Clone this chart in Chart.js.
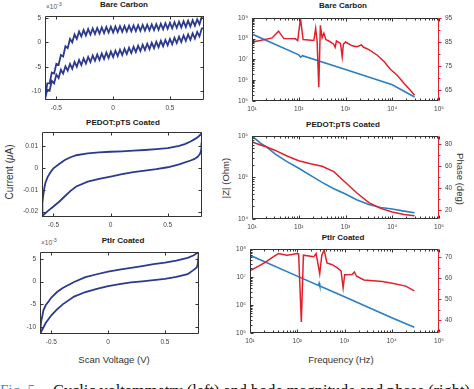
<!DOCTYPE html>
<html>
<head>
<meta charset="utf-8">
<script src="https://cdn.jsdelivr.net/npm/chart.js@4.4.1/dist/chart.umd.min.js"></script>
<style>
  html, body { margin: 0; padding: 0; background: #fff; }
  body { position: relative; width: 474px; height: 389px; overflow: hidden; font-family: 'Liberation Sans', Arial, sans-serif; }
  canvas { position: absolute; }
  .t { position: absolute; white-space: nowrap; line-height: 1; transform: translate(-50%, -50%); color: #1a1a1a; }
  .title { font-size: 8px; font-weight: bold; }
  .axis { font-size: 9.5px; color: #333; }
  .up { transform: translate(-50%, -50%) rotate(-90deg); }
  .down { transform: translate(-50%, -50%) rotate(90deg); }
  .exp { position: absolute; font-size: 6.5px; color: #555; line-height: 1; }
  .caption { position: absolute; top: 383px; font-family: 'Liberation Serif', 'Times New Roman', serif; font-size: 16.3px; white-space: nowrap; color: #111; line-height: 1; }
</style>
</head>
<body>
<div class="t title" style="left:124px;top:5px">Bare Carbon</div>
<div class="t title" style="left:343px;top:6px">Bare Carbon</div>
<div class="t title" style="left:123px;top:123px">PEDOT:pTS Coated</div>
<div class="t title" style="left:343px;top:125px">PEDOT:pTS Coated</div>
<div class="t title" style="left:123px;top:241px">PtIr Coated</div>
<div class="t title" style="left:343px;top:238px">PtIr Coated</div>
<div class="exp" style="left:46px;top:2px">×10<sup>-3</sup></div>
<div class="exp" style="left:41px;top:238px">×10<sup>-3</sup></div>
<div class="t axis up" style="left:10px;top:172px;font-size:10px">Current (<i>μ</i>A)</div>
<div class="t axis up" style="left:226px;top:178px">|Z| (Ohm)</div>
<div class="t axis down" style="left:460px;top:179px">Phase (deg)</div>
<div class="t axis" style="left:114px;top:360px">Scan Voltage (V)</div>
<div class="t axis" style="left:341px;top:360px">Frequency (Hz)</div>
<div class="caption" style="left:0;font-size:15px;color:#3d8fd6">Fig. 5.</div>
<div class="caption" style="left:53px">Cyclic voltammetry (left) and bode magnitude and phase (right)</div>

<script>
// ---------- data ----------
const cvTicks = [-0.5, 0, 0.5];
const freqTicks = [1e1, 1e2, 1e3, 1e4, 1e5];

// bare carbon CV (x10^-3), both branches on the same voltage grid
const sweepV = [-0.60, -0.58, -0.56, -0.54, -0.52, -0.50, -0.48, -0.46, -0.44, -0.42,
  -0.40, -0.38, -0.36, -0.34, -0.32, -0.30, -0.28, -0.26, -0.24, -0.22,
  -0.20, -0.18, -0.16, -0.14, -0.12, -0.10, -0.08, -0.06, -0.04, -0.02,
  0.00, 0.02, 0.04, 0.06, 0.08, 0.10, 0.12, 0.14, 0.16, 0.18,
  0.20, 0.22, 0.24, 0.26, 0.28, 0.30, 0.32, 0.34, 0.36, 0.38,
  0.40, 0.42, 0.44, 0.46, 0.48, 0.50, 0.52, 0.54, 0.56, 0.58,
  0.60, 0.62, 0.64, 0.66, 0.68, 0.70, 0.72, 0.74, 0.76, 0.78, 0.80];
const bareUpI = [-11.7, -8.4, -8.4, -6.2, -6.4, -4.4, -4.6, -2.6, -2.9, -0.8,
  -1.2, 0.7, 0.0, 1.6, 0.7, 2.2, 1.2, 2.5, 1.4, 2.7,
  1.6, 2.85, 1.7, 2.95, 1.8, 3.05, 1.9, 3.15, 2.0, 3.2,
  2.0, 3.25, 2.1, 3.3, 2.15, 3.35, 2.2, 3.4, 2.25, 3.45,
  2.3, 3.5, 2.35, 3.55, 2.4, 3.6, 2.45, 3.65, 2.5, 3.7,
  2.55, 3.8, 2.65, 3.9, 2.75, 4.0, 2.85, 4.1, 2.95, 4.2,
  3.05, 4.3, 3.15, 4.4, 3.25, 4.5, 3.4, 4.7, 3.7, 5.2, 5.5];
const bareDownI = [-11.7, -9.6, -9.9, -7.9, -8.4, -6.6, -7.3, -5.6, -6.4, -4.9,
  -5.8, -4.4, -5.4, -4.0, -5.0, -3.6, -4.65, -3.3, -4.35, -3.0,
  -4.05, -2.7, -3.8, -2.5, -3.6, -2.3, -3.4, -2.1, -3.2, -1.9,
  -3.0, -1.7, -2.8, -1.5, -2.6, -1.3, -2.4, -1.1, -2.2, -0.9,
  -2.0, -0.7, -1.8, -0.5, -1.6, -0.3, -1.4, -0.1, -1.2, 0.1,
  -1.0, 0.3, -0.8, 0.5, -0.6, 0.7, -0.4, 0.95, -0.15, 1.15,
  0.05, 1.4, 0.3, 1.6, 0.5, 1.8, 0.75, 2.1, 1.2, 2.8, 3.0];

// PEDOT:pTS CV
const pedotUpV = [-0.6, -0.598, -0.595, -0.59, -0.58, -0.57, -0.55, -0.52, -0.5, -0.45,
  -0.4, -0.35, -0.3, -0.2, -0.1, 0, 0.1, 0.2, 0.3, 0.4, 0.5, 0.6, 0.65, 0.7, 0.74, 0.77, 0.8];
const pedotUpI = [-0.0225, -0.019, -0.016, -0.013, -0.0093, -0.0068, -0.0041, -0.0015, -0.0002, 0.0018,
  0.0036, 0.0049, 0.0058, 0.0067, 0.0071, 0.0074, 0.0076, 0.0079, 0.0082, 0.0086,
  0.0091, 0.0101, 0.0109, 0.0121, 0.0133, 0.0144, 0.0160];
const pedotDownV = [0.8, 0.798, 0.795, 0.79, 0.78, 0.76, 0.73, 0.7, 0.6, 0.5,
  0.4, 0.3, 0.2, 0.1, 0, -0.1, -0.2, -0.3, -0.35, -0.4, -0.45, -0.5, -0.55, -0.6];
const pedotDownI = [0.0160, 0.0113, 0.0090, 0.0075, 0.0062, 0.0050, 0.0040, 0.0034, 0.0016, 0.0003,
  -0.0006, -0.0012, -0.0019, -0.0029, -0.0040, -0.0050, -0.0063, -0.0085, -0.0105, -0.0130,
  -0.0155, -0.0177, -0.0198, -0.0222];

// PtIr CV (x10^-3)
const ptirUpV = [-0.6, -0.595, -0.59, -0.58, -0.57, -0.55, -0.52, -0.5, -0.45, -0.4,
  -0.3, -0.2, -0.1, 0, 0.1, 0.2, 0.3, 0.4, 0.5, 0.6, 0.7, 0.75, 0.8];
const ptirUpI = [-11.5, -10, -8.8, -7.6, -6.3, -5.2, -4.2, -3.5, -2.3, -1.4,
  -0.1, 0.95, 1.6, 2.2, 2.6, 3.0, 3.4, 3.8, 4.15, 4.6, 5.2, 5.7, 6.5];
const ptirDownV = [0.8, 0.795, 0.79, 0.78, 0.75, 0.7, 0.6, 0.5, 0.4, 0.3,
  0.2, 0.1, 0, -0.1, -0.2, -0.3, -0.4, -0.45, -0.5, -0.55, -0.6];
const ptirDownI = [6.5, 5.5, 3.9, 3.1, 2.5, 1.6, 1.0, 0.6, 0.3, 0.05,
  -0.2, -0.55, -1.0, -1.6, -2.3, -3.3, -5.0, -6.1, -7.4, -9.1, -11.5];

// bode, bare carbon
const bareZFreq = [10, 100, 110, 120, 1000, 10000, 30000];
const bareZ = [1.66e8, 1.66e7, 1.29e7, 1.51e7, 3.3e6, 6.0e5, 1.55e5];
const barePhFreq = [10, 15, 27, 37, 48, 85, 95, 109, 124, 210,
  230, 247, 268, 290, 316, 345, 380, 440, 560, 600,
  640, 780, 850, 900, 1000, 1390, 1780, 2190, 2450, 3160,
  4790, 6600, 9100, 12900, 17800, 24600, 30000];
const barePh = [85.0, 85.6, 86.7, 89.5, 86.4, 86.3, 85.6, 94.8, 86, 85.6,
  90.6, 85.4, 66.2, 91.9, 86.7, 88.6, 86, 85.4, 84.1, 82.8,
  85.4, 84.4, 78.9, 84.1, 85, 83.4, 83, 83.8, 82.8, 81.8,
  79.5, 77, 73.7, 71.1, 67.9, 64.9, 62.9];

// bode, PEDOT:pTS
const pedotFreq = [10, 15.8, 20, 31.6, 56, 100, 178, 316, 562, 1000, 1778, 3162, 5623, 10000, 17800, 30000];
const pedotZ = [1.0e6, 6.46e5, 5.5e5, 3.63e5, 2.4e5, 1.66e5, 1.12e5, 7.59e4, 5.37e4, 3.98e4, 2.88e4, 2.24e4, 1.9e4, 1.74e4, 1.55e4, 1.41e4];
const pedotPh = [81.9, 79, 77.6, 74.2, 69.1, 64.8, 62, 59.7, 54.8, 44.9, 35.0, 26.5, 21.2, 17.9, 15.6, 14.4];

// bode, PtIr
const ptirZFreq = [10, 100, 280, 290, 300, 1000, 10000, 30000];
const ptirZ = [5.9e7, 1.07e7, 5.0e6, 6.0e6, 4.8e6, 1.95e6, 3.5e5, 1.6e5];
const ptirPhFreq = [10, 21, 31.4, 40, 60, 77, 98, 107, 122, 135,
  224, 251, 299, 331, 371, 425, 548, 693, 846, 935,
  1010, 1445, 1620, 1800, 2580, 6300, 10200, 19800, 30000];
const ptirPh = [63.6, 67.6, 70.3, 71.8, 71.0, 71.3, 71.8, 71.6, 39.3, 71,
  70.3, 71.8, 62.2, 71, 73.5, 67.3, 66.5, 65.1, 63.5, 55.5,
  61.7, 61.8, 63, 61, 59.2, 58.5, 57.7, 56.3, 54];

// ---------- drawing ----------
const RED = '#e2202b', BLUE = '#2a7ec4', NAVY = '#2b3a8f', INK = '#333';
const SUP = { '0': '⁰', '1': '¹', '2': '²', '3': '³', '4': '⁴', '5': '⁵', '6': '⁶', '7': '⁷', '8': '⁸', '9': '⁹', '-': '⁻' };
Chart.defaults.font.family = "'Liberation Sans', Arial, sans-serif";
const tickFont = { size: 6.5 };

function pts(xs, ys) { return xs.map((x, i) => ({ x, y: ys[i] })); }

// tick positions for the inward marks, log axes get the 2..9 minors too
function marks(s) {
  if (s.type === 'logarithmic') {
    const out = [];
    for (let e = Math.floor(Math.log10(s.min)); e <= Math.ceil(Math.log10(s.max)); e++) {
      for (let k = 1; k <= 9; k++) {
        const v = k * Math.pow(10, e);
        if (v >= s.min * 0.999 && v <= s.max * 1.001) out.push({ v, major: k === 1 });
      }
    }
    return out;
  }
  const vals = s.ticks.map(t => t.value);
  const out = vals.map(v => ({ v, major: true }));
  if (s.options.halfTicks && vals.length > 1) {
    const step = vals[1] - vals[0];
    for (let v = vals[0] - step / 2; v <= s.max; v += step) {
      if (v >= s.min) out.push({ v, major: false });
    }
  }
  return out;
}

const frame = {
  id: 'frame',
  afterDatasetsDraw(chart) {
    const { ctx, chartArea: a, scales } = chart;
    const L = Math.round(a.left) + 0.5, R = Math.round(a.right) - 0.5;
    const T = Math.round(a.top) + 0.5, B = Math.round(a.bottom) - 0.5;
    const line = (x1, y1, x2, y2) => { ctx.beginPath(); ctx.moveTo(x1, y1); ctx.lineTo(x2, y2); ctx.stroke(); };
    ctx.save();
    ctx.lineWidth = 1;
    ctx.strokeStyle = INK;
    marks(scales.x).forEach(t => {
      const p = Math.round(scales.x.getPixelForValue(t.v)) + 0.5, n = t.major ? 3 : 2;
      line(p, B, p, B - n); line(p, T, p, T + n);
    });
    marks(scales.y).forEach(t => {
      const p = Math.round(scales.y.getPixelForValue(t.v)) + 0.5, n = t.major ? 3 : 2;
      line(L, p, L + n, p);
      if (!scales.y2) line(R, p, R - n, p);
    });
    line(L, T, R, T); line(L, B, R, B); line(L, T, L, B);
    if (scales.y2) {
      ctx.strokeStyle = RED;
      marks(scales.y2).forEach(t => {
        const p = Math.round(scales.y2.getPixelForValue(t.v)) + 0.5, n = t.major ? 3 : 2;
        line(R, p, R + n, p);
      });
    }
    line(R, T, R, B);
    ctx.restore();
  }
};
Chart.register(frame);

function axis(type, pos, min, max, ticks, size, fmt, extra) {
  return Object.assign({
    type, position: pos, min, max,
    grid: { display: false, drawTicks: false }, border: { display: false },
    afterBuildTicks: s => { s.ticks = ticks.map(v => ({ value: v })); },
    afterFit: s => { if (pos === 'bottom') s.height = size; else s.width = size; },
    ticks: { font: tickFont, color: '#444', padding: pos === 'right' ? 6 : 4, maxRotation: 0, autoSkip: false, callback: fmt }
  }, extra || {});
}
const plain = v => String(v);
const pow10 = v => '10' + String(Math.round(Math.log10(v))).split('').map(c => SUP[c]).join('');

function place(box, hasRight) {
  const p = { leftW: 30, rightW: hasRight ? 24 : 6, bottomH: 14, padT: 4 };
  const c = document.createElement('canvas');
  c.width = box.r - box.l + p.leftW + p.rightW;
  c.height = box.b - box.t + p.padT + p.bottomH;
  c.style.left = (box.l - p.leftW) + 'px';
  c.style.top = (box.t - p.padT) + 'px';
  document.body.appendChild(c);
  p.ctx = c.getContext('2d');
  p.hasRight = hasRight;
  return p;
}

function opts(p, scales) {
  return {
    animation: false, responsive: false, devicePixelRatio: 1,
    layout: { autoPadding: false, padding: { top: p.padT, right: p.hasRight ? 0 : p.rightW, left: 0, bottom: 0 } },
    plugins: { legend: { display: false }, tooltip: { enabled: false } },
    elements: { point: { radius: 0 }, line: { tension: 0 } },
    scales
  };
}

function cvChart(box, loop, yMin, yMax, yTicks) {
  const p = place(box, false);
  new Chart(p.ctx, {
    type: 'scatter',
    data: { datasets: [{ data: loop, showLine: true, borderColor: NAVY, borderWidth: 1.8, pointRadius: 0 }] },
    options: opts(p, {
      x: axis('linear', 'bottom', -0.6, 0.8, cvTicks, p.bottomH, plain),
      y: axis('linear', 'left', yMin, yMax, yTicks, p.leftW, plain)
    })
  });
}

function bodeChart(box, zData, phData, zMin, zMax, zTicks, phMin, phMax, phTicks) {
  const p = place(box, true);
  new Chart(p.ctx, {
    type: 'scatter',
    data: { datasets: [
      { data: phData, yAxisID: 'y2', showLine: true, borderColor: RED, borderWidth: 1.5, pointRadius: 0 },
      { data: zData, yAxisID: 'y', showLine: true, borderColor: BLUE, borderWidth: 1.6, pointRadius: 0 }
    ] },
    options: opts(p, {
      x: axis('logarithmic', 'bottom', 10, 1e5, freqTicks, p.bottomH, pow10),
      y: axis('logarithmic', 'left', zMin, zMax, zTicks, p.leftW, pow10),
      y2: axis('linear', 'right', phMin, phMax, phTicks, p.rightW, plain, { halfTicks: true })
    })
  });
}

cvChart({ l: 45, r: 204, t: 12, b: 100 },
  pts(sweepV, bareUpI).concat(pts(sweepV, bareDownI).reverse()), -11.8, 5.4, [-10, -5, 0, 5]);
cvChart({ l: 42, r: 202, t: 128, b: 217 },
  pts(pedotUpV, pedotUpI).concat(pts(pedotDownV, pedotDownI)), -0.0225, 0.0165, [-0.02, -0.01, 0, 0.01]);
cvChart({ l: 40, r: 199, t: 248, b: 334 },
  pts(ptirUpV, ptirUpI).concat(pts(ptirDownV, ptirDownI)), -11.5, 6.5, [-10, -5, 0, 5]);

bodeChart({ l: 252, r: 439, t: 12, b: 101 }, pts(bareZFreq, bareZ), pts(barePhFreq, barePh),
  1e5, 1e9, [1e5, 1e6, 1e7, 1e8, 1e9], 60.5, 95, [65, 75, 85, 95]);
bodeChart({ l: 252, r: 439, t: 130, b: 219 }, pts(pedotFreq, pedotZ), pts(pedotFreq, pedotPh),
  1e4, 1e6, [1e4, 1e5, 1e6], 11.5, 87.5, [20, 40, 60, 80]);
bodeChart({ l: 250, r: 439, t: 243, b: 333 }, pts(ptirZFreq, ptirZ), pts(ptirPhFreq, ptirPh),
  1e5, 1e8, [1e5, 1e6, 1e7, 1e8], 34, 74, [40, 50, 60, 70]);
</script>
</body>
</html>
